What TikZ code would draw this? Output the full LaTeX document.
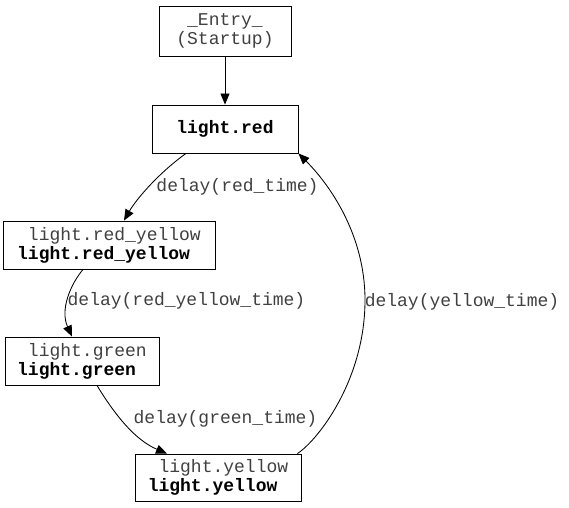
\documentclass[tikz,border=0pt]{standalone}
\usepackage{fontspec}
\setmainfont{Liberation Mono}
\usetikzlibrary{arrows.meta,calc}
\begin{document}
\begin{tikzpicture}[x=1pt,y=-1pt,
  every node/.style={font=\fontsize{18}{19}\selectfont},
  state/.style={draw,line width=0.9pt,inner sep=0pt,minimum height=48pt,align=left},
  lbl/.style={text=black!75,inner sep=0pt},
  edge/.style={line width=0.85pt,-{Triangle[length=11pt,width=9pt]}}]
\useasboundingbox (0,0) rectangle (569,507);
\node[state,minimum width=132pt,minimum height=50pt,align=center,text=black!75] (entry) at (225,31) {\_Entry\_\\(Startup)};
\node[state,minimum width=146pt] (red) at (225,129) {\textbf{light.red}};
\node[state,minimum width=212pt] (ry) at (109,245) {\textcolor{black!75}{\hphantom{x}light.red\_yellow}\\\textbf{light.red\_yellow}};
\node[state,minimum width=154pt] (green) at (82,361) {\textcolor{black!75}{\hphantom{x}light.green}\\\textbf{light.green}};
\node[state,minimum width=166pt,minimum height=47pt] (yellow) at (218,477.5) {\textcolor{black!75}{\hphantom{x}light.yellow}\\\textbf{light.yellow}};
\draw[edge] (entry.south) -- (red.north);
\draw[edge] ($(red.south)+(-39,0)$) .. controls (160,172) and (137,198) .. ($(ry.north)+(15,0)$);
\draw[edge] ($(ry.south)+(-26,0)$) .. controls (70,285) and (60,310) .. ($(green.north)+(-10,0)$);
\draw[edge] ($(green.south)+(15,0)$) .. controls (115,415) and (135,440) .. ($(yellow.north)+(-51,0)$);
\draw[edge] ($(yellow.north east)+(-4,0)$) .. controls (318,440) and (365,380) .. (365,300) .. controls (365,235) and (330,185) .. (red.south east);
\node[lbl] (l1) at (237.5,187) {delay(red\_time)};
\node[lbl] (l2) at (186.5,301) {delay(red\_yellow\_time)};
\node[lbl] (l3) at (225.5,419) {delay(green\_time)};
\node[lbl] (l4) at (462,302) {delay(yellow\_time)};
\end{tikzpicture}
\end{document}
